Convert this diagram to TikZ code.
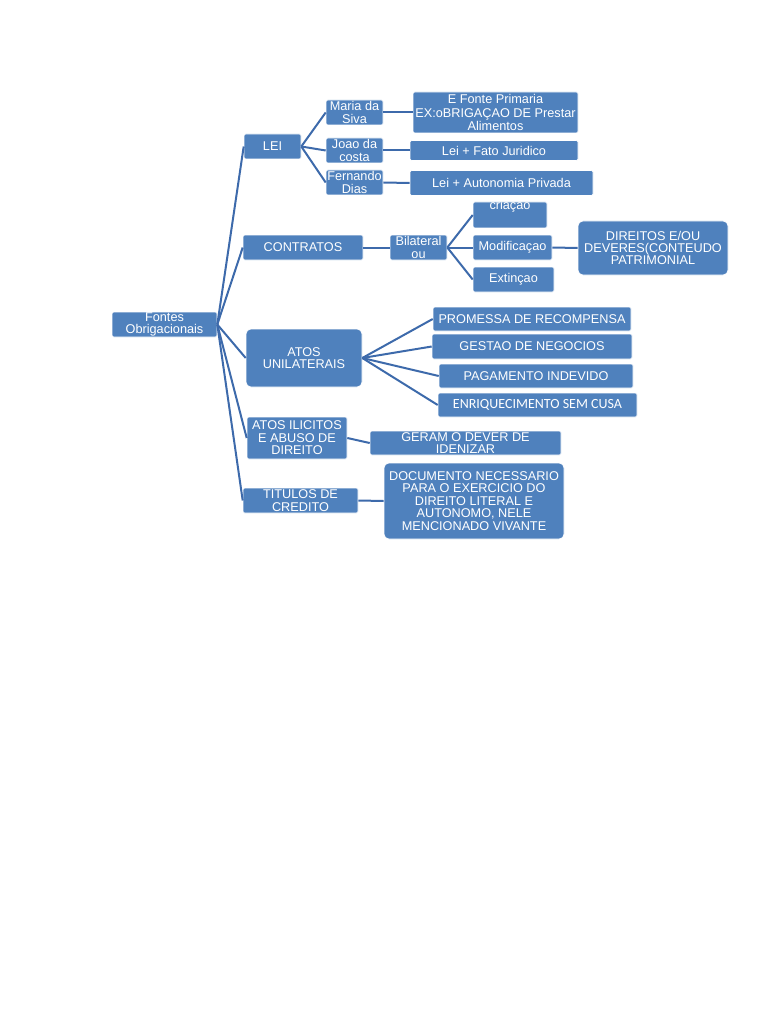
\documentclass[tikz,border=0pt]{standalone}
\usepackage{fontspec}
\setmainfont{Liberation Sans}
\newfontfamily\calibri{Carlito}
\definecolor{caixa}{HTML}{4F81BD}
\definecolor{ligacao}{HTML}{3D6AAB}
\begin{document}
\begin{tikzpicture}[x=1pt,y=-1pt,
  caixa/.style={fill=caixa, draw=white, line width=0.6pt, rounded corners=1.5pt,
    text=white, inner sep=0pt, align=center, font=\fontsize{12.7}{12.4}\selectfont},
  caixaR/.style={caixa, rounded corners=5pt},
  liga/.style={ligacao, line width=2pt}]
\useasboundingbox (0,0) rectangle (768,1024);
% Raiz
\node[caixa, minimum width=105pt, minimum height=25pt] (fo) at (164.5,324.5) {Fontes\\Obrigacionais};
% Lei
\node[caixa, minimum width=57pt, minimum height=25pt] (lei) at (272.5,146.5) {LEI};
\node[caixa, minimum width=57pt, minimum height=25pt] (mar) at (354.5,112.5) {Maria da\\Siva};
\node[caixa, minimum width=57pt, minimum height=25pt] (joa) at (354.5,150.5) {Joao da\\costa};
\node[caixa, minimum width=57pt, minimum height=25pt] (fer) at (354.5,182.5) {Fernando\\Dias};
\node[caixa, minimum width=165pt, minimum height=41pt] (pri) at (495.5,112.5) {E Fonte Primaria\\[1.5pt]EX:oBRIGAÇAO DE Prestar\\Alimentos};
\node[caixa, minimum width=168pt, minimum height=20pt] (fat) at (494,150.5) {Lei + Fato Juridico};
\node[caixa, minimum width=183pt, minimum height=25pt] (aut) at (501.5,183) {Lei + Autonomia Privada};
% Contratos
\node[caixa, minimum width=120pt, minimum height=25pt] (con) at (303,247.5) {CONTRATOS};
\node[caixa, minimum width=57pt, minimum height=25pt] (bil) at (418.5,247.5) {Bilateral\\[1.5pt]ou};
\node[caixa, minimum width=74pt, minimum height=26pt, text height=0pt, text depth=10pt] (cri) at (510,215) {criaçao};
\node[caixa, minimum width=79pt, minimum height=25pt] (mod) at (512.5,247.5) {Modificaçao};
\node[caixa, minimum width=81pt, minimum height=25pt] (ext) at (513.5,279.5) {Extinçao};
\node[caixaR, minimum width=150pt, minimum height=54pt] (dir) at (653,248) {DIREITOS E/OU\\DEVERES(CONTEUDO\\PATRIMONIAL};
% Atos unilaterais
\node[caixaR, minimum width=116pt, minimum height=58pt] (uni) at (304,358) {ATOS\\UNILATERAIS};
\node[caixa, minimum width=198pt, minimum height=24pt] (pro) at (532,319) {PROMESSA DE RECOMPENSA};
\node[caixa, minimum width=200pt, minimum height=25pt] (ges) at (532,346.5) {GESTAO DE NEGOCIOS};
\node[caixa, minimum width=194pt, minimum height=24pt] (pag) at (536,376) {PAGAMENTO INDEVIDO};
\node[caixa, minimum width=199pt, minimum height=24pt, font=\calibri\fontsize{14}{14}\selectfont] (enr) at (537.5,405) {ENRIQUECIMENTO SEM CUSA};
% Atos ilicitos
\node[caixa, minimum width=100pt, minimum height=42pt] (ili) at (297,438) {ATOS ILICITOS\\E ABUSO DE\\DIREITO};
\node[caixa, minimum width=191pt, minimum height=24pt] (ger) at (465.5,443) {GERAM O DEVER DE\\IDENIZAR};
% Titulos de credito
\node[caixa, minimum width=115pt, minimum height=25pt] (tit) at (300.5,500.5) {TITULOS DE\\CREDITO};
\node[caixaR, minimum width=180pt, minimum height=76pt] (doc) at (474,501) {DOCUMENTO NECESSARIO\\PARA O EXERCICIO DO\\DIREITO LITERAL E\\AUTONOMO, NELE\\MENCIONADO VIVANTE};
% Ligacoes da raiz
\draw[liga] (fo.east) -- (lei.west);
\draw[liga] (fo.east) -- (con.west);
\draw[liga] (fo.east) -- (uni.west);
\draw[liga] (fo.east) -- (ili.west);
\draw[liga] (fo.east) -- (tit.west);
% Ligacoes da lei
\draw[liga] (lei.east) -- (mar.west);
\draw[liga] (lei.east) -- (joa.west);
\draw[liga] (lei.east) -- (fer.west);
\draw[liga] (mar.east) -- (pri.west);
\draw[liga] (joa.east) -- (fat.west);
\draw[liga] (fer.east) -- (aut.west);
% Ligacoes dos contratos
\draw[liga] (con.east) -- (bil.west);
\draw[liga] (bil.east) -- (cri.west);
\draw[liga] (bil.east) -- (mod.west);
\draw[liga] (bil.east) -- (ext.west);
\draw[liga] (mod.east) -- (dir.west);
% Ligacoes dos atos
\draw[liga] (uni.east) -- (pro.west);
\draw[liga] (uni.east) -- (ges.west);
\draw[liga] (uni.east) -- (pag.west);
\draw[liga] (uni.east) -- (enr.west);
\draw[liga] (ili.east) -- (ger.west);
\draw[liga] (tit.east) -- (doc.west);
\end{tikzpicture}
\end{document}
